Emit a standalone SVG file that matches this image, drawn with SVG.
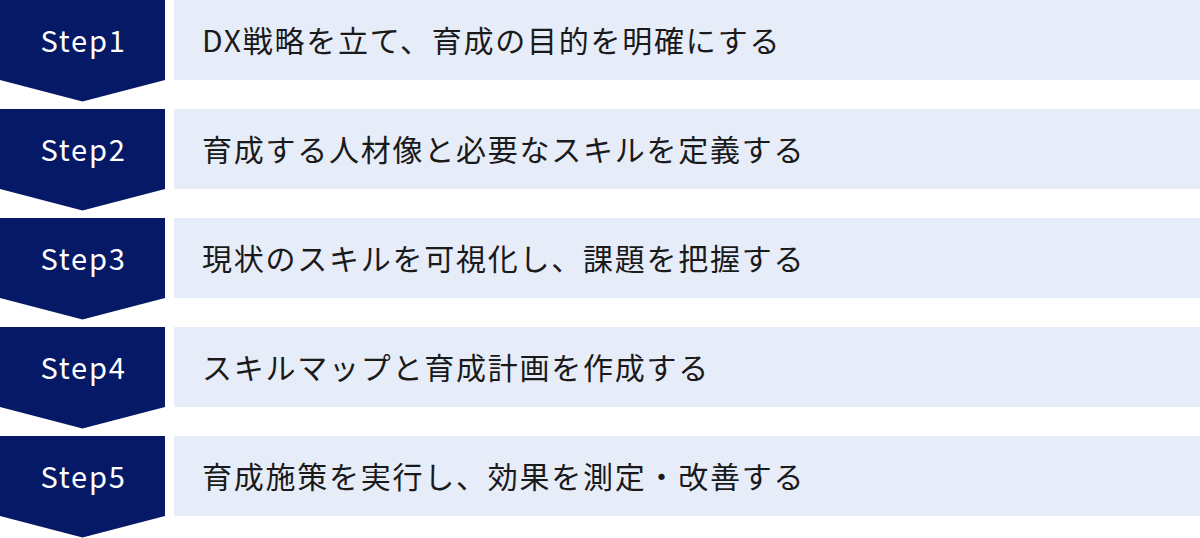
<svg xmlns="http://www.w3.org/2000/svg" width="1200" height="538" viewBox="0 0 1200 538">
<style>
.chev{fill:#051966}
.box{fill:#E7ECF9}
.step{font-family:"Noto Sans CJK JP","Noto Sans",sans-serif;font-size:29px;fill:#ffffff;letter-spacing:1.8px;text-anchor:middle}
.lbl{font-family:"Noto Sans CJK JP","Noto Sans",sans-serif;font-size:30px;fill:#1a1a1a;letter-spacing:1.75px}
</style>
<rect width="1200" height="538" fill="#ffffff"/>
<g id="connectors"></g>
<g id="step1">
<polygon class="chev" points="0,0 165,0 165,80 82.5,101.5 0,80"/>
<rect class="box" x="174" y="0" width="1026" height="80"/>
<text class="step" x="83.5" y="52">Step1</text>
<text class="lbl" x="202" y="52">DX戦略を立て、育成の目的を明確にする</text>
</g>
<g id="step2" transform="translate(0,109)">
<polygon class="chev" points="0,0 165,0 165,80 82.5,101.5 0,80"/>
<rect class="box" x="174" y="0" width="1026" height="80"/>
<text class="step" x="83.5" y="52">Step2</text>
<text class="lbl" x="202" y="52">育成する人材像と必要なスキルを定義する</text>
</g>
<g id="step3" transform="translate(0,218)">
<polygon class="chev" points="0,0 165,0 165,80 82.5,101.5 0,80"/>
<rect class="box" x="174" y="0" width="1026" height="80"/>
<text class="step" x="83.5" y="52">Step3</text>
<text class="lbl" x="202" y="52">現状のスキルを可視化し、課題を把握する</text>
</g>
<g id="step4" transform="translate(0,327)">
<polygon class="chev" points="0,0 165,0 165,80 82.5,101.5 0,80"/>
<rect class="box" x="174" y="0" width="1026" height="80"/>
<text class="step" x="83.5" y="52">Step4</text>
<text class="lbl" x="202" y="52">スキルマップと育成計画を作成する</text>
</g>
<g id="step5" transform="translate(0,436)">
<polygon class="chev" points="0,0 165,0 165,80 82.5,101.5 0,80"/>
<rect class="box" x="174" y="0" width="1026" height="80"/>
<text class="step" x="83.5" y="52">Step5</text>
<text class="lbl" x="202" y="52">育成施策を実行し、効果を測定・改善する</text>
</g>
</svg>
